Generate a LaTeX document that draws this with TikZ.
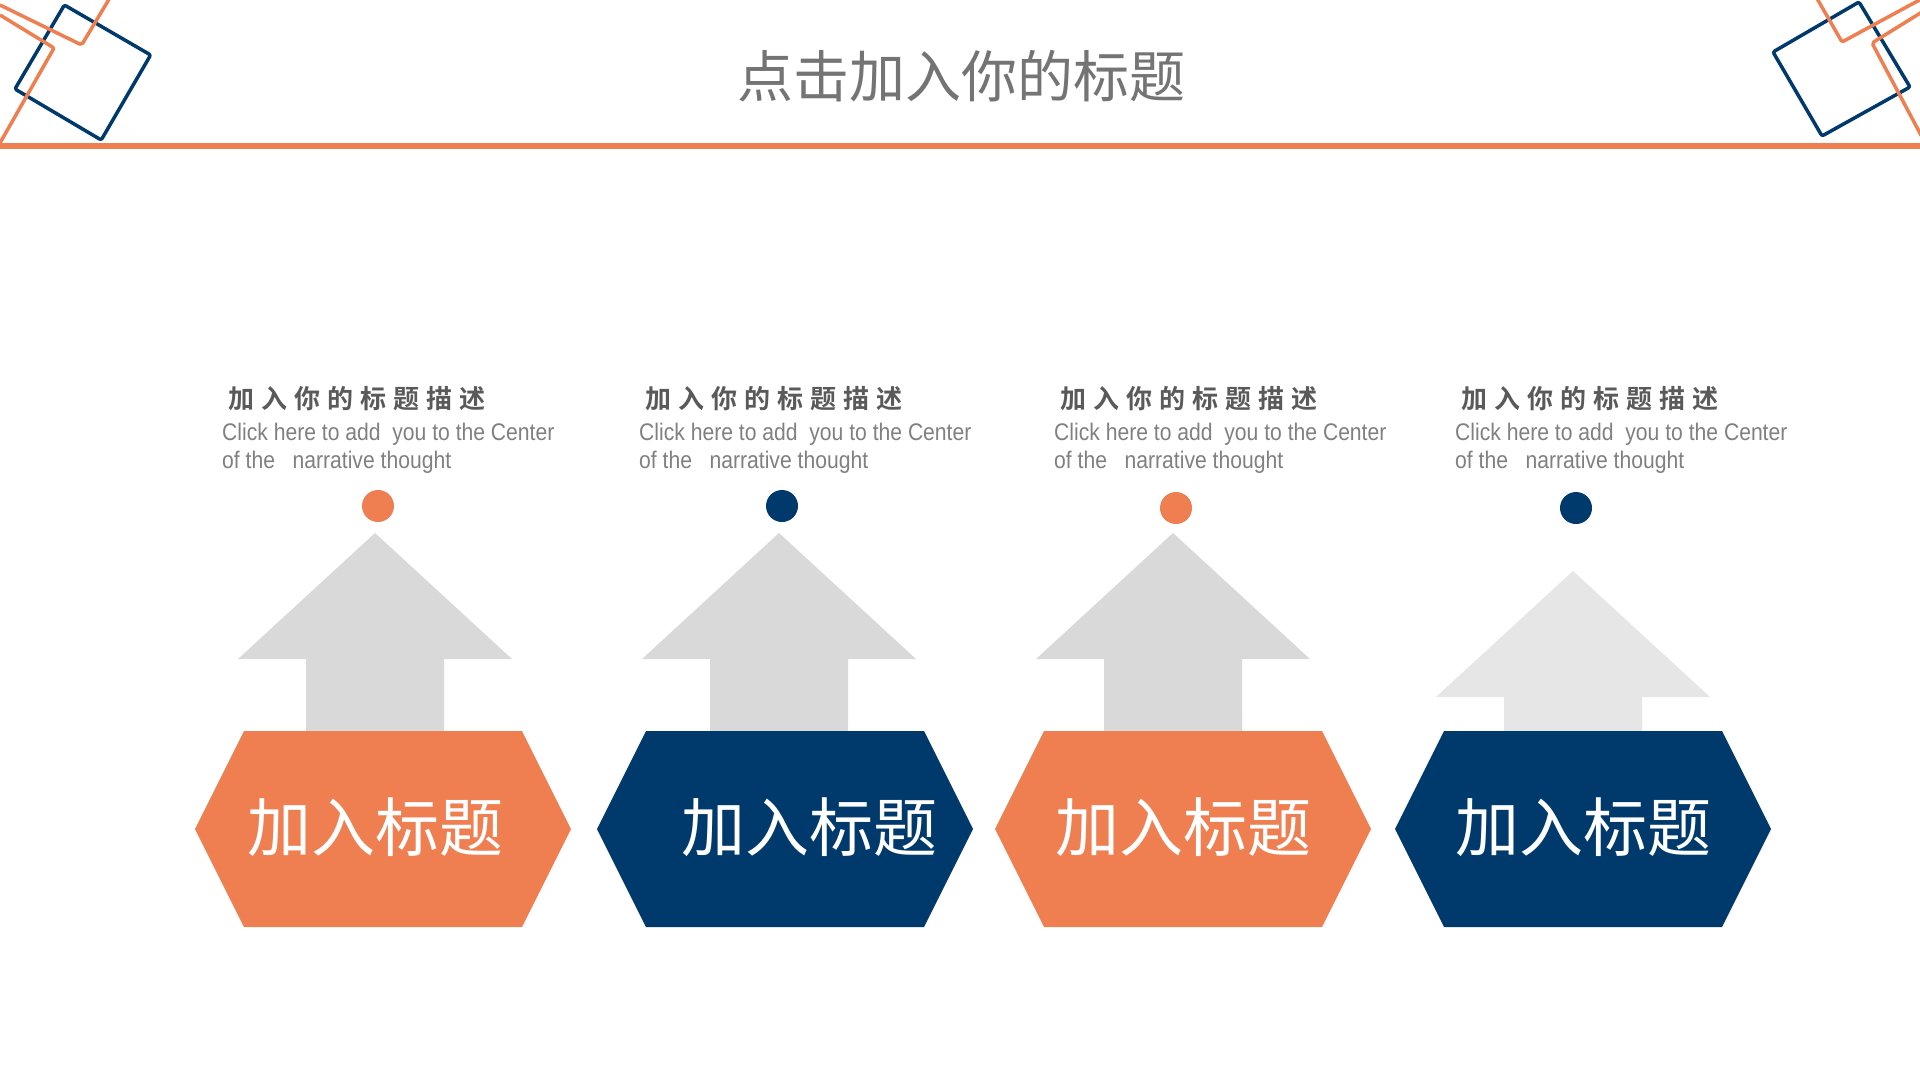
\documentclass[tikz,border=0pt]{standalone}
\usepackage{fontspec}
\setmainfont{Liberation Sans}
\newfontfamily\cjk{Noto Sans CJK SC}
\newfontfamily\cjkb{Noto Sans CJK SC Bold}
\definecolor{org}{HTML}{EF7F51}
\definecolor{navy}{HTML}{003A6C}
\definecolor{arr}{HTML}{D9D9D9}
\definecolor{arrl}{HTML}{E6E6E6}
\definecolor{txt}{HTML}{808080}
\definecolor{ttl}{HTML}{747474}
\definecolor{hd}{HTML}{5A5A5A}
\begin{document}
\begin{tikzpicture}[x=1pt,y=-1pt,
  deco/.style={line width=3.5pt,rounded corners=2pt,line join=round},
  hexlab/.style={text=white,font=\cjk\fontsize{64}{70}\selectfont,inner sep=0},
  body/.style={text=txt,font=\fontsize{24}{28}\selectfont,align=left,anchor=north west,inner sep=0},
  head/.style={text=hd,font=\cjkb\fontsize{26}{30}\selectfont,anchor=north west,inner sep=0}]
\fill[white] (0,0) rectangle (1920,1080);
\useasboundingbox (0,0) rectangle (1920,1080);
% corner decorations
\begin{scope}[xscale=1.15]
\draw[deco,navy] (56,5) -- (131,55) -- (88,140) -- (13,89) -- cycle;
\draw[deco,org] (0,5) -- (71,45) -- (97,-5);
\draw[deco,org] (0,15) -- (47,48) -- (-2,147);
\end{scope}
\draw[deco,navy] (1859,2) -- (1910,87) -- (1822,136) -- (1773,52) -- cycle;
\draw[deco,org] (1815,-5) -- (1842,42) -- (1925,-3);
\draw[deco,org] (1922,12) -- (1872,43) -- (1922,137);
\draw[org,line width=6pt] (0,146) -- (1920,146);
\node[text=ttl,font=\cjk\fontsize{56}{60}\selectfont] (title) at (961,76) {点击加入你的标题};
% columns
\foreach \hx/\ax/\tip/\base/\ac/\hc/\lx/\tx/\dy [count=\i] in
 {383/375/533/659/arr/org/375/222/506,
  785/779/533/659/arr/navy/809/639/506,
  1183/1173/533/659/arr/org/1183/1054/508,
  1583/1573/571/697/arrl/navy/1583/1455/508}{
  \fill[\ac] (\ax,\tip) -- (\ax+137,\base) -- (\ax+69,\base) -- (\ax+69,731) -- (\ax-69,731) -- (\ax-69,\base) -- (\ax-137,\base) -- cycle;
  \fill[\hc] (\hx-139,731) -- (\hx+139,731) -- (\hx+188,829) -- (\hx+139,927) -- (\hx-139,927) -- (\hx-188,829) -- cycle;
  \node[hexlab] (hex\i) at (\lx,827) {加入标题};
  \fill[\hc] (\ax+3,\dy) circle (16);
  \node[head] (head\i) at (\tx+6,386) {加\hskip7pt 入\hskip7pt 你\hskip7pt 的\hskip7pt 标\hskip7pt 题\hskip7pt 描\hskip7pt 述};
  \node[body] (body\i) at (\tx,423) {\scalebox{0.88}[1]{Click here to add\ \ you to the Center}\\\scalebox{0.88}[1]{of the \ \ narrative thought}};
}
\end{tikzpicture}
\end{document}
